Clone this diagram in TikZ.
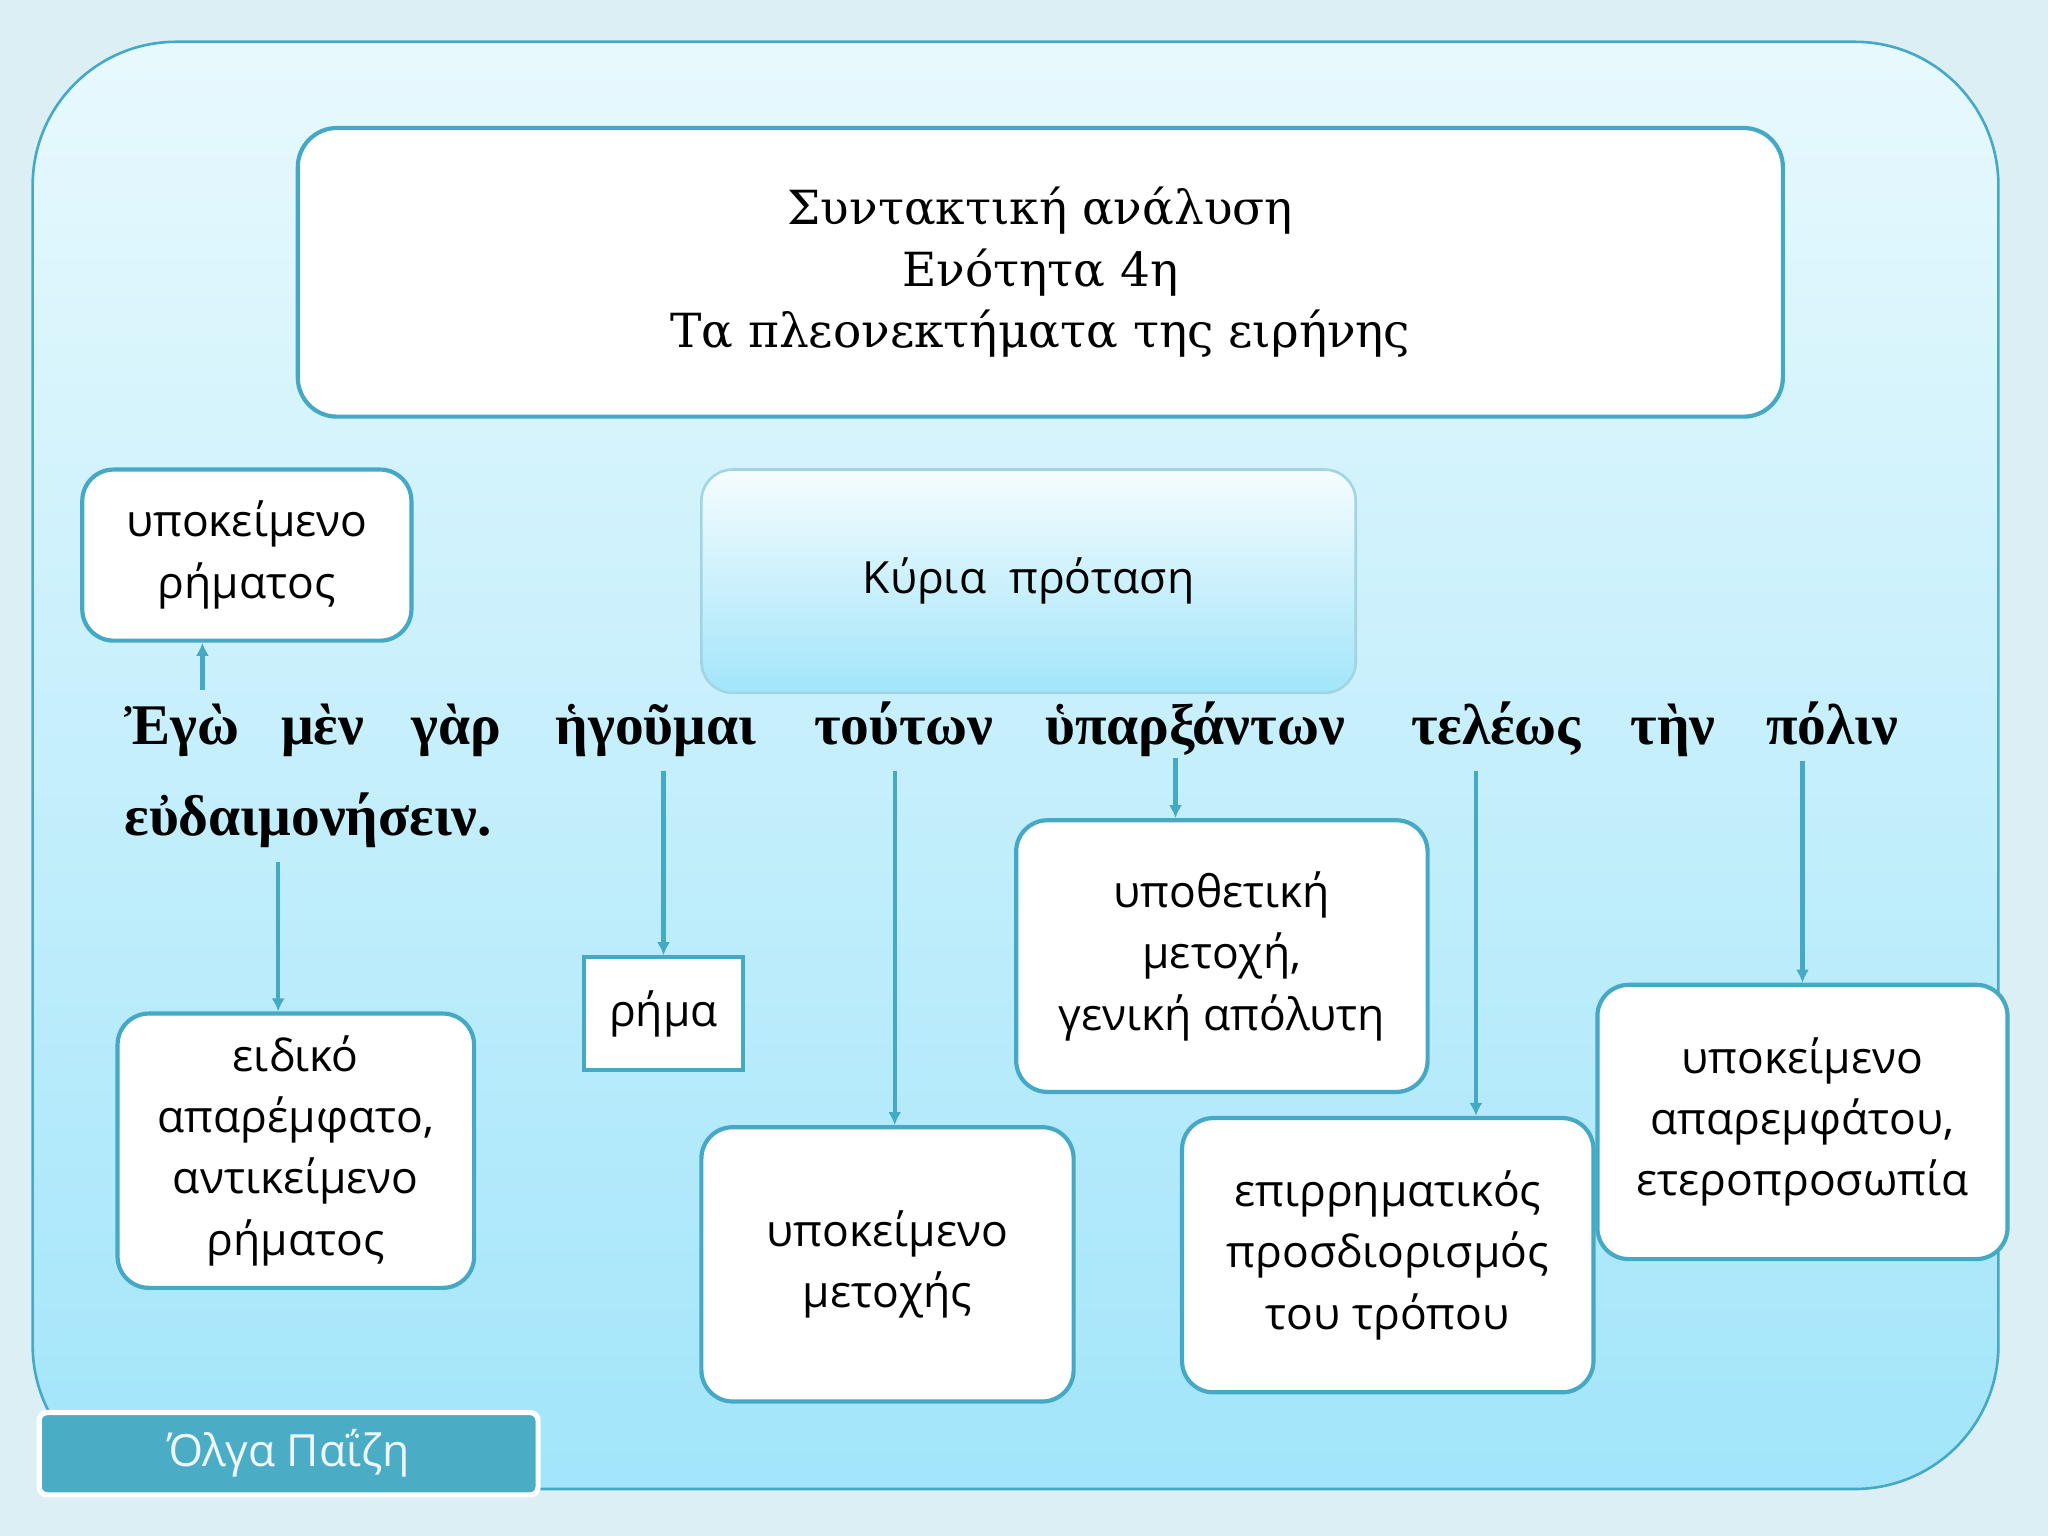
\documentclass[tikz,border=0pt]{standalone}
\usepackage{fontspec}
\setmainfont{DejaVu Serif}
\newfontfamily\boxfont{Open Sans}
\newfontfamily\grkfont{Liberation Serif}
\usetikzlibrary{arrows.meta}
\definecolor{bg}{HTML}{DCEFF5}
\definecolor{edge}{HTML}{45A9C6}
\definecolor{topc}{HTML}{E8F9FD}
\definecolor{botc}{HTML}{A2E5FA}
\definecolor{foot}{HTML}{4BACC6}
\tikzset{
  lbl/.style={draw=edge,line width=1.6pt,fill=white,rounded corners=12pt,align=center,
    font=\boxfont\fontsize{17}{23.5}\selectfont,inner sep=2pt},
  wrd/.style={anchor=base west,inner sep=0pt,font=\grkfont\bfseries\fontsize{22}{26}\selectfont},
  arr/.style={draw=edge,line width=1.6pt,-{Latex[length=5pt,width=5pt]}}
}
\begin{document}
\begin{tikzpicture}[x=0.5pt,y=-0.5pt]
\fill[bg] (0,0) rectangle (1568,1176);
\useasboundingbox (0,0) rectangle (1568,1176);
\shade[top color=topc,bottom color=botc,rounded corners=55pt] (25,32) rectangle (1530,1140);
\draw[edge,line width=1pt,rounded corners=55pt] (25,32) rectangle (1530,1140);
\node[lbl,minimum width=568.5pt,minimum height=110.5pt,rounded corners=15pt,
  font=\fontsize{18}{23.5}\selectfont] (title) at (796.5,208.5)
  {Συντακτική ανάλυση\\Ενότητα 4η\\Τα πλεονεκτήματα της ειρήνης};
\node[lbl,draw=edge!50,line width=1pt,top color=white!60!topc,bottom color=botc,
  minimum width=250.5pt,minimum height=85.5pt] (main) at (787.5,445) {Κύρια\ \ πρόταση};
\node[lbl,minimum width=126pt,minimum height=65.5pt] (subj) at (189,425) {υποκείμενο\\ρήματος};
\node[lbl,minimum width=136.5pt,minimum height=105pt] (inf) at (226.5,881) {ειδικό\\απαρέμφατο,\\αντικείμενο\\ρήματος};
\node[lbl,rounded corners=0pt,minimum width=61pt,minimum height=43pt] (verb) at (508,776) {ρήμα};
\node[lbl,minimum width=142.5pt,minimum height=105pt] (psubj) at (679.5,968) {υποκείμενο\\μετοχής};
\node[lbl,minimum width=157.5pt,minimum height=104pt] (cond) at (935.5,732) {υποθετική\\μετοχή,\\γενική απόλυτη};
\node[lbl,minimum width=157.5pt,minimum height=105pt] (adv) at (1062.5,961) {επιρρηματικός\\προσδιορισμός\\του τρόπου};
\node[lbl,minimum width=157pt,minimum height=105pt] (isubj) at (1380,859) {υποκείμενο\\απαρεμφάτου,\\ετεροπροσωπία};
\node[wrd] (w1) at (95,570) {Ἐγὼ};
\node[wrd] (w2) at (215,570) {μὲν};
\node[wrd] (w3) at (315,570) {γὰρ};
\node[wrd] (w4) at (425,570) {ἡγοῦμαι};
\node[wrd] (w5) at (623,570) {τούτων};
\node[wrd] (w6) at (800,570) {ὑπαρξάντων};
\node[wrd] (w7) at (1080,570) {τελέως};
\node[wrd] (w8) at (1248,570) {τὴν};
\node[wrd] (w9) at (1352,570) {πόλιν};
\node[wrd] (w10) at (95,640) {εὐδαιμονήσειν.};
\coordinate (a1) at (155,528);
\coordinate (a2) at (213,660);
\coordinate (a3) at (508,590);
\coordinate (a4) at (685,590);
\coordinate (a5) at (900,580);
\coordinate (a6) at (1130,590);
\coordinate (a7) at (1380,583);
\draw[arr] (a1) -- (subj.south -| a1);
\draw[arr] (a2) -- (inf.north -| a2);
\draw[arr] (a3) -- (verb.north);
\draw[arr] (a4) -- (psubj.north -| a4);
\draw[arr] (a5) -- (cond.north -| a5);
\draw[arr] (a6) -- (adv.north -| a6);
\draw[arr] (a7) -- (isubj.north -| a7);
\node[fill=foot,draw=white,line width=2pt,rounded corners=3pt,minimum width=191pt,minimum height=31.5pt,
  font=\boxfont\fontsize{17}{20}\selectfont,text=white!90!foot] (auth) at (221,1113) {Όλγα Παΐζη};
\end{tikzpicture}
\end{document}
